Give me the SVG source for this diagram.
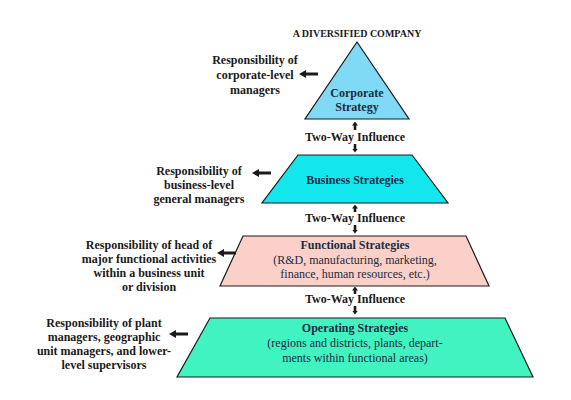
<svg xmlns="http://www.w3.org/2000/svg" width="571" height="400" viewBox="0 0 571 400">
<defs>
<marker id="ah" markerUnits="userSpaceOnUse" markerWidth="7" markerHeight="8" refX="1" refY="4" orient="auto">
<path d="M0,0 L7,4 L0,8 Z" fill="#1a1a1a"/>
</marker>
<marker id="vh" markerUnits="userSpaceOnUse" markerWidth="4" markerHeight="6" refX="0.5" refY="3" orient="auto">
<path d="M0,0 L4,3 L0,6 Z" fill="#1a1a1a"/>
</marker>
<style>
text{font-family:"Liberation Serif","Times New Roman",serif;font-size:12px;fill:#1a1a1a;text-anchor:middle}
.b{font-weight:bold}
.in{fill:#1c2c3e}
.t{font-size:10px;font-weight:bold}
.shape{stroke:#1a1a1a;stroke-width:1.2}
.arr{stroke:#1a1a1a;stroke-width:3;marker-end:url(#ah)}
.varr{stroke:#1a1a1a;stroke-width:2.6;marker-end:url(#vh)}
</style>
</defs>
<rect width="571" height="400" fill="#ffffff"/>
<text class="t" x="357" y="37">A DIVERSIFIED COMPANY</text>

<g id="corporate">
<polygon class="shape" points="357,42 305,119 409,119" fill="#80daf5"/>
<text class="b in" x="357" y="97">Corporate</text>
<text class="b in" x="357" y="111">Strategy</text>
</g>
<g id="business">
<polygon class="shape" points="298,155 412,155 448,203 262,203" fill="#14e6ee"/>
<text class="b in" x="355" y="184">Business Strategies</text>
</g>
<g id="functional">
<polygon class="shape" points="243,236 466,236 489,286 220,286" fill="#fad0c8"/>
<text class="b in" x="355" y="249">Functional Strategies</text>
<text class="in" x="355" y="264">(R&amp;D, manufacturing, marketing,</text>
<text class="in" x="355" y="278">finance, human resources, etc.)</text>
</g>
<g id="operating">
<polygon class="shape" points="210,318 505,318 533,377 177,377" fill="#42f3c2"/>
<text class="b in" x="355" y="332">Operating Strategies</text>
<text class="in" x="355" y="347">(regions and districts, plants, depart-</text>
<text class="in" x="355" y="362">ments within functional areas)</text>
</g>

<g id="label-corporate">
<text class="b" x="255" y="64">Responsibility of</text>
<text class="b" x="255" y="79">corporate-level</text>
<text class="b" x="255" y="94">managers</text>
</g>
<g id="label-business">
<text class="b" x="199" y="175">Responsibility of</text>
<text class="b" x="199" y="189">business-level</text>
<text class="b" x="199" y="203">general managers</text>
</g>
<g id="label-functional">
<text class="b" x="149" y="249">Responsibility of head of</text>
<text class="b" x="149" y="263">major functional activities</text>
<text class="b" x="149" y="277">within a business unit</text>
<text class="b" x="149" y="291">or division</text>
</g>
<g id="label-operating">
<text class="b" x="104" y="327">Responsibility of plant</text>
<text class="b" x="104" y="341">managers, geographic</text>
<text class="b" x="104" y="355">unit managers, and lower-</text>
<text class="b" x="104" y="369">level supervisors</text>
</g>

<g id="influence-labels">
<text class="b" x="355" y="141">Two-Way Influence</text>
<text class="b" x="355" y="222">Two-Way Influence</text>
<text class="b" x="355" y="303">Two-Way Influence</text>
</g>

<g id="connectors">
<line class="arr" x1="318" y1="74" x2="305" y2="74"/>
<line class="arr" x1="271" y1="173" x2="258" y2="173"/>
<line class="arr" x1="236" y1="253" x2="223" y2="253"/>
<line class="arr" x1="188" y1="334" x2="175" y2="334"/>
<line class="varr" x1="355" y1="130" x2="355" y2="125"/>
<line class="varr" x1="355" y1="144" x2="355" y2="149"/>
<line class="varr" x1="355" y1="212" x2="355" y2="208"/>
<line class="varr" x1="355" y1="225" x2="355" y2="230"/>
<line class="varr" x1="355" y1="294" x2="355" y2="290"/>
<line class="varr" x1="355" y1="306" x2="355" y2="311"/>
</g>
</svg>
